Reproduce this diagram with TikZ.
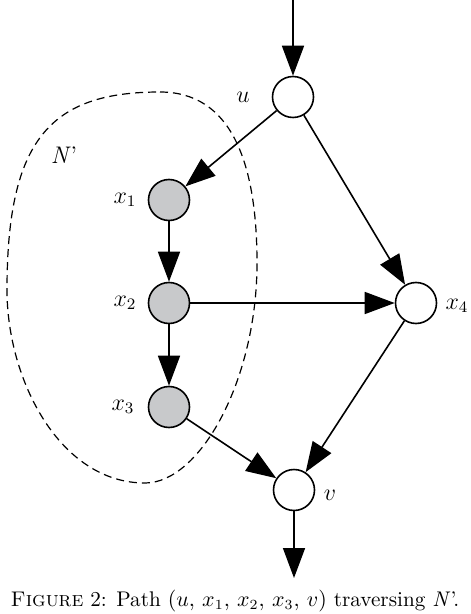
\documentclass[tikz,border=0pt]{standalone}
\usetikzlibrary{arrows.meta, positioning}
\definecolor{nodegray}{RGB}{200,201,203}

\begin{document}
\begin{tikzpicture}[
        x=0.5pt, y=-0.5pt,
        on grid,
        vertex/.style={draw, circle, line width=0.8pt, minimum size=20.5pt, inner sep=0pt, fill=white},
        inner/.style={vertex, fill=nodegray},
        arrow/.style={-{Triangle[length=15pt, width=11pt]}, line width=0.8pt},
        tag/.style={font=\large}
        ]
        \useasboundingbox (0,0) rectangle (470,614);

        % Region N'
        \draw [dashed, dash pattern=on 4pt off 2.5pt, line width=0.6pt]
            (160,92) .. controls (230,92) and (257,160) .. (257,263)
            .. controls (257,380) and (200,483) .. (145,483)
            .. controls (60,483) and (7,380) .. (7,290)
            .. controls (7,140) and (50,92) .. cycle;
        \node [tag] (Nlabel) at (64,155) {\textit{N}'};

        % Nodes
        \node [vertex] (u) at (293,97) {};
        \node [inner] (x1) at (169,200) {};
        \node [inner] (x2) [below=51.5pt of x1] {};
        \node [inner] (x3) [below=52pt of x2] {};
        \node [vertex] (x4) [right=123.5pt of x2] {};
        \node [vertex] (v) at (294,490) {};

        \coordinate (in) at (293,0);
        \coordinate (out) at (294,578);

        % Labels
        \node [tag] (ulabel) [left=25pt of u] {$u$};
        \node [tag] (x1label) [left=22pt of x1] {$x_1$};
        \node [tag] (x2label) [left=22pt of x2] {$x_2$};
        \node [tag] (x3label) [left=23pt of x3] {$x_3$};
        \node [tag] (x4label) at (457,306) {$x_4$};
        \node [tag] (vlabel) at (330,495) {$v$};

        % Arrows
        \draw [arrow] (in) -- (u);
        \draw [arrow] (u) -- (x1);
        \draw [arrow] (u) -- (x4);
        \draw [arrow] (x1) -- (x2);
        \draw [arrow] (x2) -- (x3);
        \draw [arrow] (x2) -- (x4);
        \draw [arrow] (x3) -- (v);
        \draw [arrow] (x4) -- (v);
        \draw [arrow] (v) -- (out);

        % Caption
        \node [font=\fontsize{10.6}{12}\selectfont] (caption) at (235,601) {\textsc{Figure} 2: Path $(u,\,x_1,\,x_2,\,x_3,\,v)$ traversing \textit{N}'.};
    \end{tikzpicture}
\end{document}
